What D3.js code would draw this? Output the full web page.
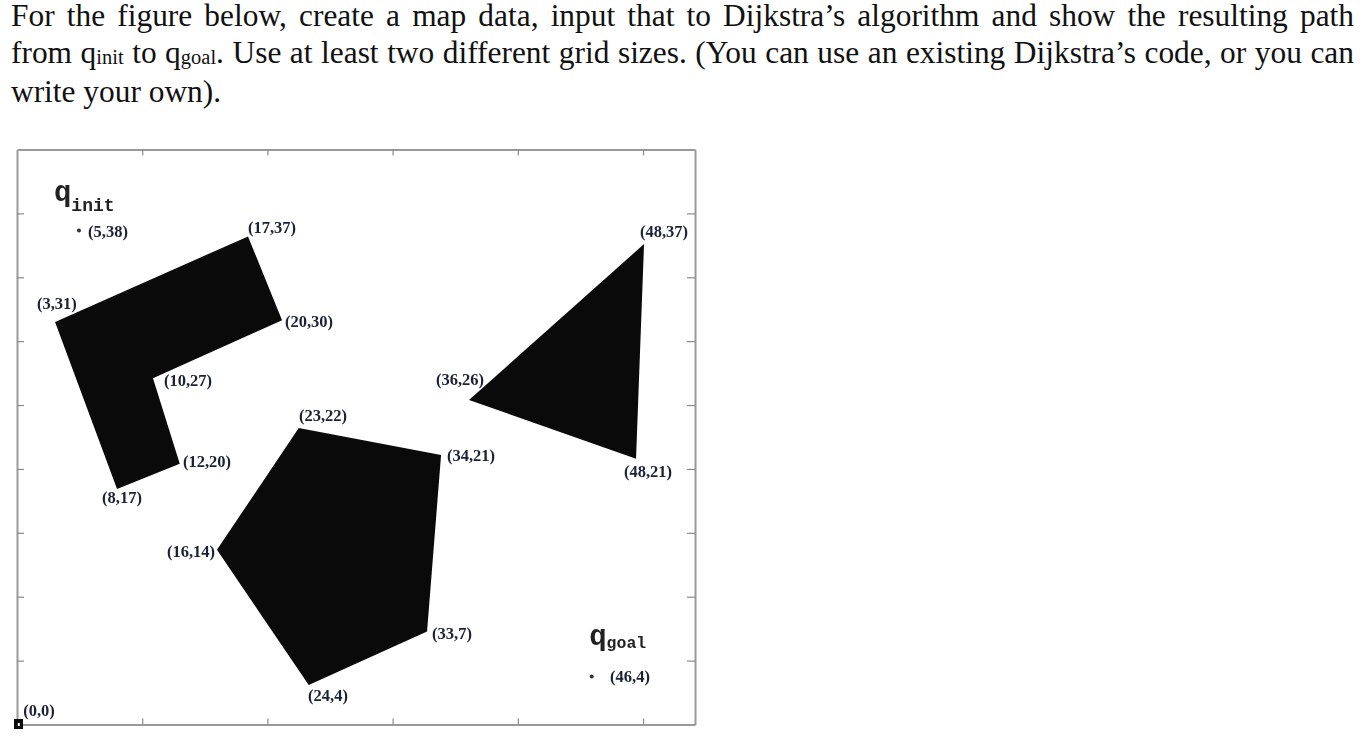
<!DOCTYPE html>
<html><head><meta charset="utf-8">
<script src="https://cdn.jsdelivr.net/npm/d3@7/dist/d3.min.js"></script>
<style>
html,body{margin:0;padding:0;background:#fff;width:1369px;height:739px;overflow:hidden}
#prompt{position:absolute;left:11px;top:-2px;width:1343px;font:31.4px/36.6px "Liberation Serif",serif;color:#111}
#prompt div{text-align:justify;text-align-last:justify;white-space:nowrap}
#prompt div.last{text-align-last:left}
#prompt sub{font-size:20.5px;vertical-align:baseline;position:relative;top:1px}
svg{position:absolute;left:0;top:0;filter:blur(0.4px)}
</style></head><body>
<div id="prompt">
<div>For the figure below, create a map data, input that to Dijkstra’s algorithm and show the resulting path</div>
<div>from q<sub>init</sub> to q<sub>goal</sub>. Use at least two different grid sizes. (You can use an existing Dijkstra’s code, or you can</div>
<div class="last">write your own).</div>
</div>
<svg id="c" width="1369" height="739"></svg>
<script>
const xTicks = [10,20,30,40,50];
const yTicks = [5,10,15,20,25,30,35,40];
const lShapeX = [3.04,18.45,21.17,10.86,13.0,7.99];
const lShapeY = [31.5,38.2,31.64,27.1,20.4,18.44];
const triangleX = [50.08,36.1,49.44];
const triangleY = [37.6,25.4,20.8];
const pentagonX = [22.5,33.87,32.75,23.3,15.97];
const pentagonY = [23.2,21.1,7.27,3.1,13.67];
const pointX = [4.95,45.9];
const pointY = [38.67,3.75];
const labelText = ["(17,37)","(48,37)","(5,38)","(3,31)","(20,30)","(10,27)","(23,22)","(36,26)","(34,21)","(48,21)","(12,20)","(8,17)","(16,14)","(33,7)","(24,4)","(46,4)","(0,0)"];
const labelX = [20.37,51.68,7.27,3.19,23.32,13.66,24.44,35.38,36.26,50.4,15.18,8.39,13.9,34.74,24.84,48.96,1.76];
const labelY = [38.91,38.59,38.59,32.97,31.56,26.88,24.14,27.03,21.02,19.77,20.55,17.73,13.52,7.11,2.27,3.75,1.09];
const qNames = ["init","goal"];
const qX = [2.95,45.7];
const qY = [40.94,6.25];

const svg = d3.select("#c");
const x = d3.scaleLinear().domain([0,54.15]).range([17,695]);
const y = d3.scaleLinear().domain([0,45]).range([724.5,149.5]);
const line = d3.line();
const g = svg.append("g");

const axes = [
  [d3.axisBottom(x).tickValues(xTicks).tickSizeInner(-6), y(0)],
  [d3.axisTop(x).tickValues(xTicks).tickSizeInner(-6), y(45)]
];
axes.forEach(([a,t])=>{
  g.append("g").attr("transform",`translate(0,${t})`)
   .call(a.tickSizeOuter(0).tickFormat(""));
});
g.append("g").attr("transform",`translate(${x(0)},0)`)
 .call(d3.axisLeft(y).tickValues(yTicks).tickSizeInner(-7).tickSizeOuter(0).tickFormat(""));
g.append("g").attr("transform",`translate(${x(54.15)},0)`)
 .call(d3.axisRight(y).tickValues(yTicks).tickSizeInner(-8).tickSizeOuter(0).tickFormat(""));
g.selectAll(".domain").attr("stroke","#999").attr("stroke-width",2);
g.selectAll(".tick line").attr("stroke","#8a8a8a").attr("stroke-width",1.2);

const shapes = [[lShapeX,lShapeY],[triangleX,triangleY],[pentagonX,pentagonY]];
g.selectAll("path.ob").data(shapes).join("path").attr("class","ob")
 .attr("d",([a,b])=>line(a.map((v,i)=>[x(v),y(b[i])]))+"Z")
 .attr("fill","#0a0a0a");

// start / goal points
g.selectAll("circle.pt").data(pointX).join("circle").attr("class","pt")
 .attr("cx",d=>x(d)).attr("cy",(d,i)=>y(pointY[i])).attr("r",2).attr("fill","#333");

// origin marker
g.append("rect").attr("x",x(0)-3).attr("y",y(0)-5.5).attr("width",9).attr("height",10).attr("fill","#0a0a0a");
g.append("rect").attr("x",x(0)+0.8).attr("y",y(0)-1.5).attr("width",2).attr("height",3).attr("fill","#fff");

g.selectAll("text.lb").data(labelText).join("text").attr("class","lb")
 .attr("x",(d,i)=>x(labelX[i])).attr("y",(d,i)=>y(labelY[i])).attr("dy","0.33em")
 .attr("text-anchor","middle")
 .attr("font-family","Liberation Serif").attr("font-weight","bold").attr("font-size",16.5)
 .attr("fill","#1c2136").text(d=>d);

const q = g.selectAll("text.q").data(qNames).join("text").attr("class","q")
 .attr("x",(d,i)=>x(qX[i])).attr("y",(d,i)=>y(qY[i]))
 .attr("font-family","Liberation Mono").attr("font-weight","bold").attr("fill","#222");
q.append("tspan").attr("font-size",29).text("q");
q.append("tspan").attr("font-size",(d,i)=>i?16.5:18).attr("dy",(d,i)=>i?3:10).text(d=>d);
</script>
</body></html>
